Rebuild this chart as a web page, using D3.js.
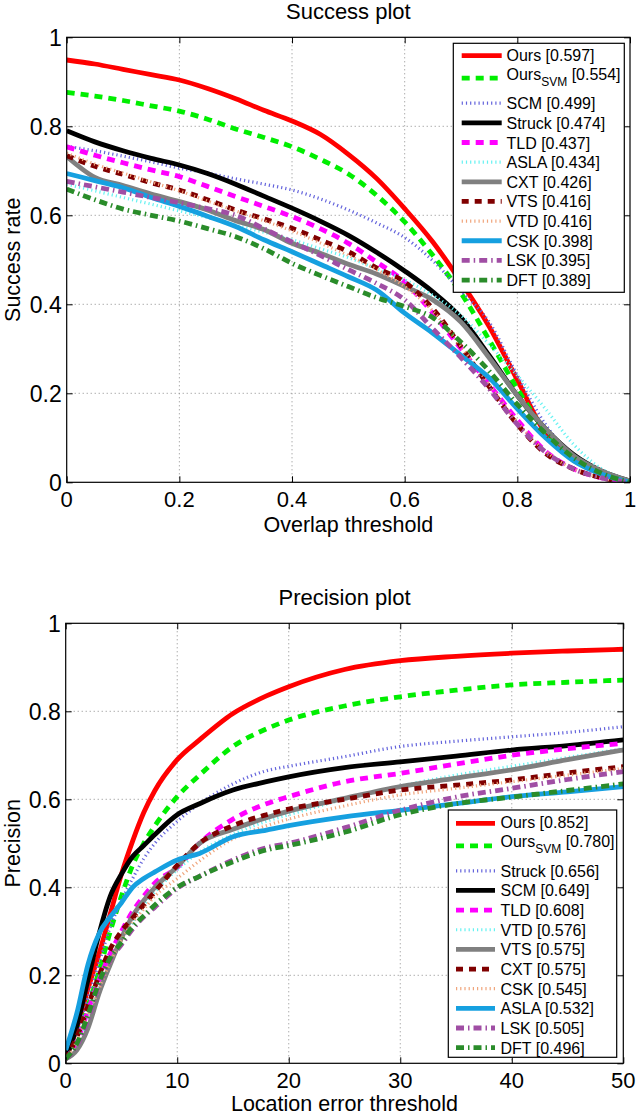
<!DOCTYPE html>
<html>
<head>
<meta charset="utf-8">
<script src="https://cdn.jsdelivr.net/npm/d3@7"></script>
<style>
  html, body { margin: 0; padding: 0; background: #fff; }
  svg { display: block; font-family: "Liberation Sans", Arial, sans-serif; }
</style>
</head>
<body>
<svg id="chart" width="639" height="1114"></svg>
<script>
// ---------------- Success plot data ----------------
const successX = [0,0.05,0.1,0.15,0.2,0.25,0.3,0.35,0.4,0.45,0.5,0.55,0.6,0.65,0.7,0.75,0.8,0.85,0.9,0.95,1.0];
const successNames  = ["Ours","Ours_SVM","SCM","Struck","TLD","ASLA","CXT","VTS","VTD","CSK","LSK","DFT"];
const successScores = ["0.597","0.554","0.499","0.474","0.437","0.434","0.426","0.416","0.416","0.398","0.395","0.389"];
const sOurs   = [0.949,0.94,0.928,0.916,0.904,0.885,0.862,0.836,0.812,0.782,0.737,0.683,0.615,0.54,0.45,0.35,0.23,0.11,0.055,0.02,0.002];
const sOursSVM= [0.876,0.868,0.858,0.846,0.834,0.816,0.794,0.775,0.754,0.726,0.693,0.645,0.585,0.51,0.425,0.32,0.21,0.115,0.05,0.02,0.003];
const sSCM    = [0.755,0.745,0.733,0.72,0.706,0.695,0.682,0.67,0.657,0.637,0.612,0.583,0.55,0.498,0.43,0.36,0.24,0.13,0.055,0.02,0.003];
const sStruck = [0.79,0.765,0.745,0.728,0.713,0.694,0.67,0.643,0.616,0.587,0.555,0.517,0.475,0.428,0.37,0.285,0.195,0.12,0.062,0.025,0.003];
const sTLD    = [0.754,0.735,0.718,0.702,0.687,0.665,0.642,0.62,0.597,0.57,0.537,0.495,0.45,0.38,0.3,0.22,0.14,0.07,0.03,0.01,0.0];
const sASLA   = [0.67,0.655,0.64,0.625,0.61,0.595,0.578,0.562,0.545,0.525,0.505,0.48,0.455,0.42,0.375,0.31,0.24,0.165,0.085,0.03,0.005];
const sCXT    = [0.732,0.685,0.667,0.648,0.631,0.612,0.588,0.568,0.537,0.515,0.49,0.468,0.44,0.41,0.36,0.28,0.195,0.12,0.06,0.025,0.003];
const sVTS    = [0.734,0.71,0.692,0.673,0.657,0.635,0.612,0.592,0.571,0.545,0.518,0.482,0.45,0.39,0.305,0.215,0.13,0.065,0.03,0.01,0.0];
const sVTD    = [0.74,0.715,0.695,0.675,0.655,0.632,0.61,0.588,0.565,0.538,0.51,0.478,0.44,0.385,0.305,0.22,0.135,0.07,0.03,0.01,0.0];
const sCSK    = [0.694,0.678,0.662,0.64,0.62,0.598,0.575,0.545,0.518,0.49,0.462,0.432,0.38,0.335,0.285,0.235,0.165,0.1,0.048,0.018,0.0];
const sLSK    = [0.676,0.664,0.652,0.64,0.628,0.615,0.6,0.57,0.54,0.51,0.478,0.447,0.41,0.345,0.28,0.21,0.13,0.068,0.03,0.01,0.0];
const sDFT    = [0.659,0.635,0.614,0.6,0.587,0.57,0.552,0.525,0.492,0.465,0.44,0.415,0.395,0.37,0.315,0.25,0.175,0.11,0.055,0.02,0.0];
const successSeries = [sOurs,sOursSVM,sSCM,sStruck,sTLD,sASLA,sCXT,sVTS,sVTD,sCSK,sLSK,sDFT];
const successTicksX = [0,0.2,0.4,0.6,0.8,1];
const successTicksY = [0,0.2,0.4,0.6,0.8,1];

// ---------------- Precision plot data ----------------
const precisionX = [0,1,2,3,4,5,6,7,8,10,12,15,18,20,25,30,35,40,45,50];
const precisionNames  = ["Ours","Ours_SVM","Struck","SCM","TLD","VTD","VTS","CXT","CSK","ASLA","LSK","DFT"];
const precisionScores = ["0.852","0.780","0.656","0.649","0.608","0.576","0.575","0.575","0.545","0.532","0.505","0.496"];
const pOurs   = [0.01,0.08,0.17,0.25,0.34,0.43,0.505,0.57,0.62,0.69,0.735,0.795,0.835,0.856,0.895,0.915,0.925,0.932,0.937,0.941];
const pOursSVM= [0.01,0.06,0.13,0.21,0.3,0.38,0.45,0.5,0.54,0.606,0.655,0.72,0.76,0.78,0.812,0.833,0.848,0.86,0.866,0.871];
const pStruck = [0.01,0.07,0.15,0.23,0.31,0.37,0.42,0.465,0.5,0.55,0.59,0.635,0.665,0.675,0.697,0.72,0.732,0.742,0.752,0.765];
const pSCM    = [0.01,0.085,0.19,0.295,0.38,0.43,0.47,0.495,0.52,0.565,0.59,0.621,0.64,0.651,0.672,0.685,0.698,0.712,0.722,0.735];
const pTLD    = [0.01,0.05,0.12,0.19,0.25,0.3,0.345,0.38,0.41,0.445,0.5,0.555,0.59,0.606,0.64,0.659,0.68,0.7,0.715,0.727];
const pVTD    = [0.01,0.04,0.1,0.17,0.23,0.28,0.32,0.36,0.39,0.44,0.48,0.52,0.55,0.565,0.6,0.63,0.655,0.675,0.695,0.715];
const pVTS    = [0.01,0.03,0.08,0.16,0.225,0.285,0.335,0.37,0.4,0.447,0.5,0.532,0.558,0.573,0.602,0.629,0.648,0.667,0.69,0.712];
const pCXT    = [0.01,0.06,0.13,0.2,0.26,0.3,0.33,0.36,0.39,0.45,0.5,0.54,0.565,0.578,0.6,0.621,0.632,0.644,0.66,0.674];
const pCSK    = [0.01,0.05,0.11,0.17,0.23,0.28,0.32,0.35,0.38,0.42,0.46,0.51,0.54,0.555,0.585,0.61,0.625,0.64,0.655,0.67];
const pASLA   = [0.03,0.114,0.225,0.295,0.333,0.365,0.4,0.42,0.435,0.462,0.477,0.515,0.53,0.54,0.56,0.575,0.59,0.606,0.617,0.629];
const pLSK    = [0.01,0.04,0.1,0.18,0.235,0.27,0.305,0.333,0.355,0.398,0.425,0.462,0.49,0.5,0.535,0.575,0.605,0.625,0.645,0.663];
const pDFT    = [0.01,0.045,0.11,0.185,0.24,0.275,0.31,0.335,0.36,0.4,0.425,0.458,0.485,0.495,0.525,0.565,0.59,0.605,0.62,0.635];
const precisionSeries = [pOurs,pOursSVM,pStruck,pSCM,pTLD,pVTD,pVTS,pCXT,pCSK,pASLA,pLSK,pDFT];
const precisionTicksX = [0,10,20,30,40,50];
const precisionTicksY = [0,0.2,0.4,0.6,0.8,1];

// ---------------- styles (by legend rank) ----------------
const rankStyles = [
  {color:"#ff0000", width:4.8, dash:null},
  {color:"#00ee00", width:4.8, dash:"8,6"},
  {color:"#6464dc", width:3.2, dash:"1.2,3"},
  {color:"#000000", width:4.8, dash:null},
  {color:"#ff00ff", width:4.8, dash:"8,6"},
  {color:"#66f2f2", width:3.2, dash:"1.2,3"},
  {color:"#808080", width:4.8, dash:null},
  {color:"#800000", width:4.8, dash:"7,6"},
  {color:"#f0a57c", width:3.2, dash:"1.2,3"},
  {color:"#16a0e0", width:4.8, dash:null},
  {color:"#a04ea4", width:4.8, dash:"8,4,1.5,4"},
  {color:"#2a8c2a", width:4.8, dash:"8,4,1.5,4"}
];

const svg = d3.select("#chart");
const FONT = '"Liberation Sans", Arial, sans-serif';

function drawPanel(cfg) {
  const {left, right, top, bottom, xDomain, xTicks, yTicks, xVals, series, names, scores,
         title, titleY, xLabel, xLabelY, yLabel, xTickY, xTickFmt, legend} = cfg;
  const x = d3.scaleLinear().domain(xDomain).range([left, right]);
  const y = d3.scaleLinear().domain([0, 1]).range([bottom, top]);
  const g = svg.append("g");
  const clipId = "clip" + Math.round(top);
  svg.append("clipPath").attr("id", clipId).append("rect")
    .attr("x", left).attr("y", top).attr("width", right - left).attr("height", bottom - top);

  // grid
  g.append("g").selectAll("line").data(xTicks.slice(1, -1)).join("line")
    .attr("x1", d => x(d)).attr("x2", d => x(d)).attr("y1", top).attr("y2", bottom)
    .attr("stroke", "#8a8a8a").attr("stroke-width", 1).attr("stroke-dasharray", "1,3");
  g.append("g").selectAll("line").data(yTicks.slice(1, -1)).join("line")
    .attr("y1", d => y(d)).attr("y2", d => y(d)).attr("x1", left).attr("x2", right)
    .attr("stroke", "#8a8a8a").attr("stroke-width", 1).attr("stroke-dasharray", "1,3");

  // lines
  const line = d3.line().x((d, i) => x(xVals[i])).y(d => y(d)).curve(d3.curveMonotoneX);
  const lg = g.append("g").attr("clip-path", `url(#${clipId})`);
  series.forEach((s, i) => {
    const st = rankStyles[i];
    lg.append("path").attr("d", line(s)).attr("fill", "none")
      .attr("stroke", st.color).attr("stroke-width", st.width)
      .attr("stroke-dasharray", st.dash).attr("stroke-linejoin", "round");
  });

  // axes box
  g.append("rect").attr("x", left).attr("y", top).attr("width", right - left).attr("height", bottom - top)
    .attr("fill", "none").attr("stroke", "#000").attr("stroke-width", 1.2);

  // inward ticks via d3 axes
  const tl = 6;
  const axB = d3.axisBottom(x).tickValues(xTicks).tickSize(-tl).tickFormat("");
  const axT = d3.axisTop(x).tickValues(xTicks).tickSize(-tl).tickFormat("");
  const axL = d3.axisLeft(y).tickValues(yTicks).tickSize(-tl).tickFormat("");
  const axR = d3.axisRight(y).tickValues(yTicks).tickSize(-tl).tickFormat("");
  [[axB, `translate(0,${bottom})`], [axT, `translate(0,${top})`], [axL, `translate(${left},0)`], [axR, `translate(${right},0)`]]
    .forEach(([ax, tr]) => {
      const a = g.append("g").attr("transform", tr).call(ax);
      a.select(".domain").remove();
      a.selectAll("line").attr("stroke", "#000");
    });

  // tick labels
  g.append("g").selectAll("text").data(xTicks).join("text")
    .attr("x", d => x(d)).attr("y", xTickY).attr("text-anchor", "middle")
    .attr("font-size", 22).attr("font-family", FONT).attr("fill", "#000")
    .text(xTickFmt);
  g.append("g").selectAll("text").data(yTicks).join("text")
    .attr("x", left - 5).attr("y", d => y(d)).attr("dy", "0.36em").attr("text-anchor", "end")
    .attr("font-size", 23).attr("font-family", FONT).attr("fill", "#000")
    .text(d => d === 0 ? "0" : d === 1 ? "1" : d3.format(".1f")(d));

  // title & labels
  g.append("text").attr("x", (left + right) / 2).attr("y", titleY).attr("text-anchor", "middle")
    .attr("font-size", 22).attr("font-family", FONT).text(title);
  g.append("text").attr("x", (left + right) / 2).attr("y", xLabelY).attr("text-anchor", "middle")
    .attr("font-size", 21.5).attr("font-family", FONT).text(xLabel);
  g.append("text").attr("transform", `translate(19.5,${(top + bottom) / 2}) rotate(-90)`)
    .attr("text-anchor", "middle").attr("font-size", 21.5).attr("font-family", FONT).text(yLabel);

  // legend
  const L = legend;
  g.append("rect").attr("x", L.x0).attr("y", L.y0).attr("width", L.x1 - L.x0).attr("height", L.y1 - L.y0)
    .attr("fill", "#fff").attr("stroke", "#000").attr("stroke-width", 1.2);
  names.forEach((n, i) => {
    const st = rankStyles[i];
    const ly = L.firstY + (i === 0 ? 0 : i === 1 ? 22.5 : 47.5 + (i - 2) * 19.65);
    g.append("line").attr("x1", L.lx0).attr("x2", L.lx1).attr("y1", ly).attr("y2", ly)
      .attr("stroke", st.color).attr("stroke-width", st.width).attr("stroke-dasharray", st.dash);
    const t = g.append("text").attr("x", L.tx).attr("font-size", 16).attr("font-family", FONT).attr("fill", "#000");
    if (n.includes("_")) {
      const [base, sub] = n.split("_");
      t.attr("y", ly + 1.5);
      t.append("tspan").text(base);
      t.append("tspan").attr("font-size", 12).attr("dy", 6).text(sub);
      t.append("tspan").attr("dy", -6).text(" [" + scores[i] + "]");
    } else {
      t.attr("y", ly + (i === 0 ? 5 : 6)).text(n + " [" + scores[i] + "]");
    }
  });
}

drawPanel({
  left: 66.7, right: 630, top: 37.3, bottom: 482.3,
  xDomain: [0, 1], xTicks: successTicksX, yTicks: successTicksY,
  xVals: successX, series: successSeries, names: successNames, scores: successScores,
  title: "Success plot", titleY: 18.5, xLabel: "Overlap threshold", xLabelY: 532,
  yLabel: "Success rate", xTickY: 507,
  xTickFmt: d => d === 0 ? "0" : d === 1 ? "1" : d3.format(".1f")(d),
  legend: {x0: 453.3, x1: 624.3, y0: 43.3, y1: 292.3, firstY: 55.7, lx0: 461.7, lx1: 501.7, tx: 506.5}
});

drawPanel({
  left: 65.7, right: 623.3, top: 623.3, bottom: 1063.3,
  xDomain: [0, 50], xTicks: precisionTicksX, yTicks: precisionTicksY,
  xVals: precisionX, series: precisionSeries, names: precisionNames, scores: precisionScores,
  title: "Precision plot", titleY: 605, xLabel: "Location error threshold", xLabelY: 1110.5,
  yLabel: "Precision", xTickY: 1088,
  xTickFmt: d => String(d),
  legend: {x0: 448.3, x1: 616.7, y0: 810, y1: 1057.3, firstY: 823.3, lx0: 456, lx1: 495, tx: 500.5}
});
</script>
</body>
</html>
